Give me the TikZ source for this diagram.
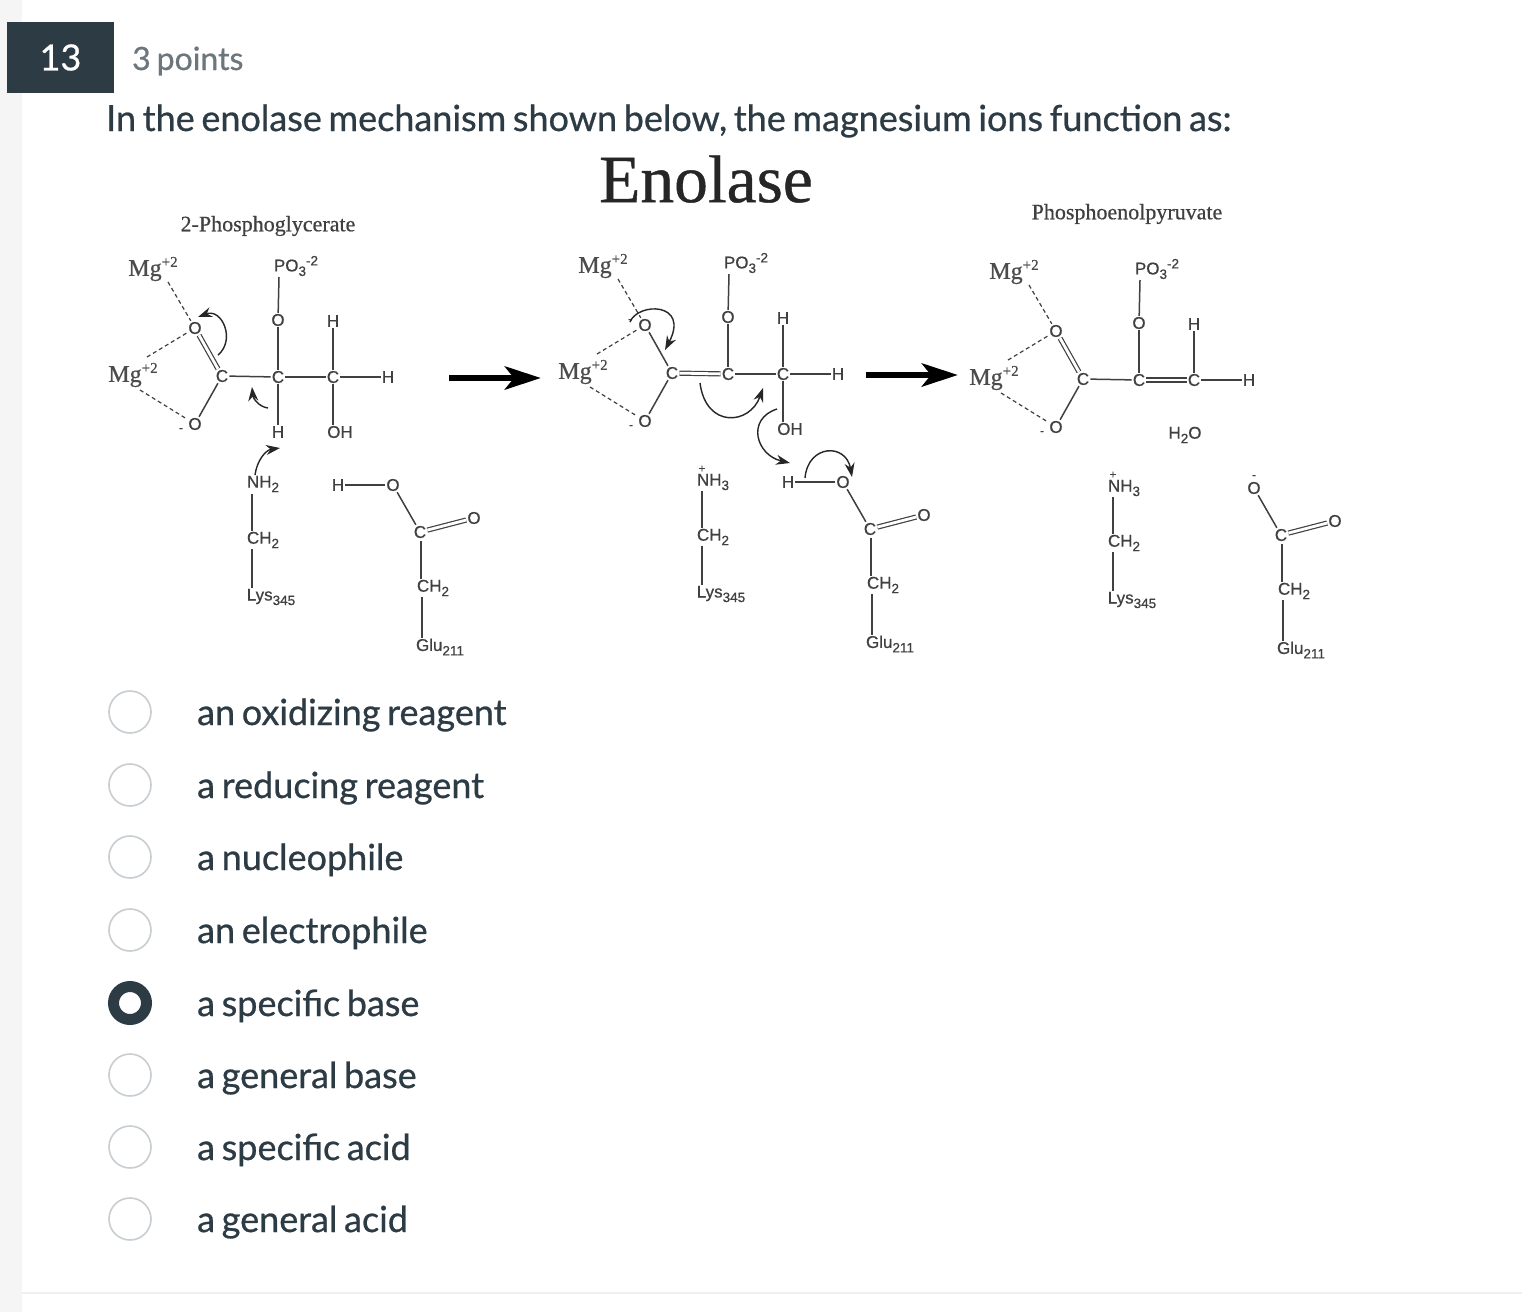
\documentclass[tikz,border=0pt]{standalone}
\usepackage{fontspec}
\setmainfont[WordSpace=0.72,FakeBold=0.7]{Lato}
\newfontfamily\chem[FakeBold=0.6]{Liberation Sans}
\newfontfamily\tms[FakeBold=0.6]{Liberation Serif}
\usetikzlibrary{arrows.meta}
\definecolor{ink}{HTML}{2D3B45}
\definecolor{ring}{HTML}{C7CDD1}
\definecolor{bondc}{HTML}{404040}
\newcommand{\dn}[1]{\raisebox{-4.5pt}{\fontsize{13.5}{13.5}\selectfont #1}}
\newcommand{\upc}[1]{\raisebox{6pt}{\fontsize{13.5}{13.5}\selectfont #1}}
\newcommand{\mgion}{Mg\raisebox{9pt}{\fontsize{15}{15}\selectfont+2}}
\tikzset{
  atom/.style={font=\chem\fontsize{17}{17}\selectfont,text=bondc,inner sep=1pt},
  chargemark/.style={font=\chem\fontsize{12}{12}\selectfont,text=bondc,inner sep=0pt},
  mg/.style={font=\tms\fontsize{24}{24}\selectfont,text=black!70,inner sep=1pt},
  heading/.style={font=\tms\fontsize{22}{22}\selectfont,text=black!75,inner sep=0pt},
  bond/.style={draw=bondc,line width=1.5pt},
  dbond/.style={draw=bondc,line width=1.2pt,double=white,double distance=2.8pt},
  dashbond/.style={draw=bondc,line width=1.2pt,dash pattern=on 4pt off 3pt},
  curly/.style={draw=black!85,line width=1.4pt,-{Stealth[length=14pt,width=10pt]}},
  bigarrow/.style={draw=black,line width=6.5pt,-{Stealth[length=36pt,width=23pt,inset=9pt]}},
  radio/.style={circle,draw=ring,line width=1.6pt,fill=white,minimum size=42pt,inner sep=0pt},
  picked/.style={circle,draw=ink,line width=11pt,fill=white,minimum size=33pt,inner sep=0pt},
  option/.style={anchor=base west,inner sep=0pt,text=ink,font=\fontsize{36}{36}\selectfont},
}
\newcommand{\optionrow}[4]{%
  \node[#4] (#1r) at (130,#2) {};
  \node[option] (#1t) at (197,#2+13) {#3};}
% common atoms of one molecule (coordinates of the first panel)
\newcommand{\molcommon}{%
  \node[mg] (mgA) at (153,269) {\mgion};
  \node[mg] (mgB) at (133,375) {\mgion};
  \node[atom] (po) at (296,266) {PO\dn{3}\upc{-2}};
  \node[atom] (ob) at (278,320) {O};
  \node[atom] (ot) at (195,328) {O};
  \node[atom] (ol) at (195,424) {O};
  \node[atom] (cc) at (222,376) {C};
  \node[atom] (ca) at (278,377) {C};
  \node[atom] (cb) at (333,377) {C};
  \node[atom] (hr) at (388,377) {H};
  \node[atom] (ht) at (333,321) {H};
  \node[atom] (ck) at (263,540) {CH\dn{2}};
  \node[atom] (ly) at (271,597) {Lys\dn{345}};
  \node[atom] (oe) at (393,485) {O};
  \node[atom] (ce) at (420,532) {C};
  \node[atom] (od) at (474,518) {O};
  \node[atom] (cg) at (433,588) {CH\dn{2}};
  \node[atom] (gl) at (440,647) {Glu\dn{211}};
  \node[chargemark] (mi) at (181,430) {-};
  \coordinate (poS) at (279,277);
  \coordinate (ckT) at (252,494);
  \coordinate (ckB) at (252,531);
  \coordinate (ckC) at (252,549);
  \coordinate (lyT) at (252,588);
  \coordinate (cgT) at (421,541);
  \coordinate (cgB) at (421,579);
  \coordinate (cgC) at (422,597);
  \coordinate (glT) at (422,638);
  \coordinate (mgAe) at (168,282);
  \coordinate (mgBa) at (147,357);
  \coordinate (mgBb) at (140,390);
  \draw[bond] (poS) -- (ob);
  \draw[bond] (ob) -- (ca);
  \draw[bond] (cb) -- (ht);
  \draw[bond] (cb) -- (hr);
  \draw[bond] (cc) -- (ol);
  \draw[dashbond] (mgAe) -- (ot);
  \draw[dashbond] (mgBa) -- (ot);
  \draw[dashbond] (mgBb) -- (ol);
  \draw[bond] (ckB) -- (ckT);
  \draw[bond] (ckC) -- (lyT);
  \draw[bond] (oe) -- (ce);
  \draw[dbond] (ce) -- (od);
  \draw[bond] (cgT) -- (cgB);
  \draw[bond] (cgC) -- (glT);
}
\begin{document}
\begin{tikzpicture}[x=1pt,y=-1pt]
\useasboundingbox (0,0) rectangle (1522,1312);
\fill[white] (0,0) rectangle (1522,1312);
\fill[black!4] (0,0) rectangle (22,1312);
\draw[black!6,line width=1.5pt] (22,1293) -- (1522,1293);
\node[fill=ink,minimum width=107pt,minimum height=71pt,inner sep=0pt,text=white,font=\fontsize{36}{36}\selectfont] (num) at (60.5,57.5) {\raisebox{-1.5pt}{13}};
\node[anchor=base west,inner sep=0pt,text=ink!70,font=\fontsize{32}{32}\selectfont] (pts) at (132,70) {3 points};
\node[anchor=base west,inner sep=0pt,text=ink,font=\fontsize{36}{36}\selectfont] (q) at (106,131) {In the enolase mechanism shown below, the magnesium ions function as:};
\node[inner sep=0pt,font=\tms\fontsize{67.5}{67.5}\selectfont,text=black!85] (title) at (706,179) {Enolase};
\node[heading] (h1) at (268,226) {2-Phosphoglycerate};
\node[heading] (h3) at (1127,214) {Phosphoenolpyruvate};
% panel 1
\begin{scope}[name prefix=a-]
\molcommon
\node[atom] (hd) at (278,432) {H};
\node[atom] (oh) at (340,432) {OH};
\node[atom] (nh) at (263,484) {NH\dn{2}};
\node[atom] (he) at (338,485) {H};
\draw[dbond] (cc) -- (ot);
\draw[bond] (cc) -- (ca);
\draw[bond] (ca) -- (cb);
\draw[bond] (ca) -- (hd);
\draw[bond] (cb) -- (oh.north -| cb);
\draw[bond] (he) -- (oe);
\coordinate (s1) at (218,355); \coordinate (t1) at (198,317);
\coordinate (s2) at (268,408); \coordinate (t2) at (252,387);
\coordinate (s3) at (255,475); \coordinate (t3) at (280,448);
\draw[curly] (s1) .. controls (236,340) and (222,308) .. (t1);
\draw[curly] (s2) .. controls (259,407) and (253,398) .. (t2);
\draw[curly] (s3) .. controls (257,460) and (266,450) .. (t3);
\end{scope}
% panel 2
\begin{scope}[shift={(450,-3)},name prefix=b-]
\molcommon
\node[atom] (oh) at (340,432) {OH};
\node[atom] (nh) at (263,485) {NH\dn{3}};
\node[chargemark] (pl) at (252,472) {+};
\node[atom] (he) at (338,485) {H};
\node[chargemark] (mt) at (180,324) {-};
\draw[bond] (cc) -- (ot);
\draw[dbond] (cc) -- (ca);
\draw[bond] (ca) -- (cb);
\draw[bond] (cb) -- (oh.north -| cb);
\draw[bond] (he) -- (oe);
\coordinate (s1) at (180,325); \coordinate (t1) at (215,353);
\coordinate (s2) at (250,386); \coordinate (t2) at (313,391);
\coordinate (s3) at (327,412); \coordinate (t3) at (340,466);
\coordinate (s4) at (355,481); \coordinate (t4) at (402,480);
\draw[curly] (s1) .. controls (188,305) and (240,305) .. (t1);
\draw[curly] (s2) .. controls (256,432) and (300,428) .. (t2);
\draw[curly] (s3) .. controls (296,422) and (306,458) .. (t3);
\draw[curly] (s4) .. controls (358,447) and (396,446) .. (t4);
\end{scope}
% panel 3
\begin{scope}[shift={(861,3)},name prefix=c-]
\molcommon
\node[atom] (nh) at (263,485) {NH\dn{3}};
\node[chargemark] (pl) at (252,472) {+};
\node[atom] (wa) at (324,432) {H\dn{2}O};
\node[chargemark] (om) at (393,474) {-};
\draw[dbond] (cc) -- (ot);
\draw[bond] (cc) -- (ca);
\draw[dbond] (ca) -- (cb);
\end{scope}
\coordinate (ar1s) at (449,378); \coordinate (ar1e) at (541,378);
\coordinate (ar2s) at (866,375); \coordinate (ar2e) at (958,375);
\draw[bigarrow] (ar1s) -- (ar1e);
\draw[bigarrow] (ar2s) -- (ar2e);
% answers
\optionrow{o1}{712}{an oxidizing reagent}{radio}
\optionrow{o2}{785}{a reducing reagent}{radio}
\optionrow{o3}{857}{a nucleophile}{radio}
\optionrow{o4}{930}{an electrophile}{radio}
\optionrow{o5}{1003}{a specific base}{picked}
\optionrow{o6}{1075}{a general base}{radio}
\optionrow{o7}{1147}{a specific acid}{radio}
\optionrow{o8}{1219}{a general acid}{radio}
\end{tikzpicture}
\end{document}
